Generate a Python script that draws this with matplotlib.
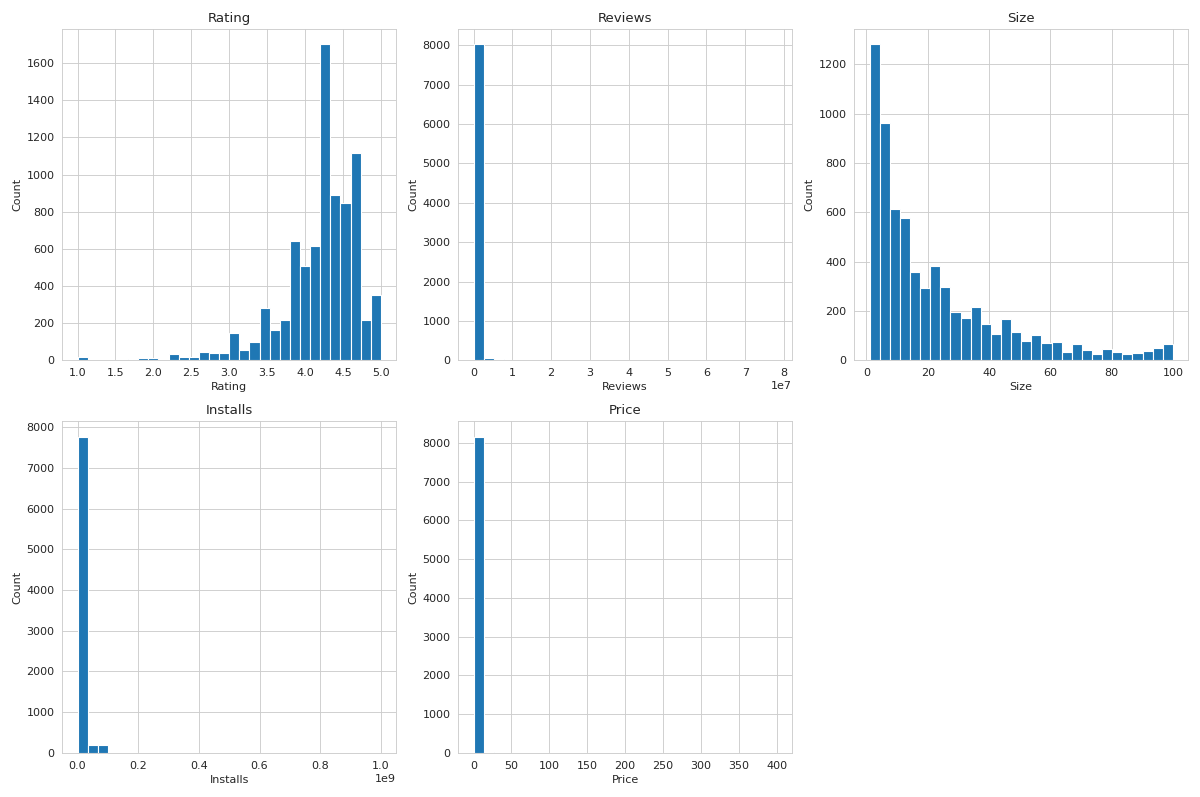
"""Histograms of the numeric columns of the app store table (30 bins each)."""

import numpy as np
import matplotlib

matplotlib.use("Agg")
import matplotlib.pyplot as plt
import seaborn as sns

COLUMNS = ["Rating", "Reviews", "Size", "Installs", "Price"]

# value range (min, max) of every column; 30 equal bins span it
RANGES = {
    "Rating": (1.0, 5.0),
    "Reviews": (0.0, 78158306.0),
    "Size": (1.0, 100.0),
    "Installs": (0.0, 1.0e9),
    "Price": (0.0, 400.0),
}

# counts per bin
rating_counts = [16, 0, 0, 0, 2, 5, 14, 10, 5, 32, 18, 18, 45, 38, 40,
                 145, 58, 97, 280, 162, 218, 640, 510, 615, 1700, 888, 845,
                 1118, 218, 354]
reviews_counts = [8020, 70, 24, 12, 8, 5, 4, 3, 2, 2, 1, 1, 1, 1, 0,
                  0, 0, 0, 0, 0, 0, 0, 0, 0, 1, 1, 0, 0, 0, 1]
size_counts = [1281, 963, 613, 576, 358, 293, 384, 296, 197, 172, 217, 149,
               106, 167, 115, 79, 103, 71, 73, 34, 66, 41, 27, 46, 34, 27,
               30, 37, 49, 64]
installs_counts = [7760, 180, 180, 0, 0, 0, 0, 0, 0, 0, 0, 0, 0, 0, 0,
                   5, 0, 0, 0, 0, 0, 0, 0, 0, 0, 0, 0, 0, 0, 5]
price_counts = [8150, 10, 5, 3, 1, 1, 0, 0, 0, 0, 0, 0, 0, 0, 0,
                0, 0, 0, 0, 0, 0, 0, 0, 0, 0, 0, 0, 0, 0, 3]

COUNTS = {
    "Rating": rating_counts,
    "Reviews": reviews_counts,
    "Size": size_counts,
    "Installs": installs_counts,
    "Price": price_counts,
}


def main() -> None:
    sns.set_style("whitegrid")
    fig, axes = plt.subplots(2, 3, figsize=(15, 9.9625), dpi=80)
    for ax, col in zip(axes.flat, COLUMNS):
        lo, hi = RANGES[col]
        edges = np.linspace(lo, hi, len(COUNTS[col]) + 1)
        centers = (edges[:-1] + edges[1:]) / 2
        ax.hist(centers, bins=edges, weights=COUNTS[col], color="#1f77b4")
        ax.set_title(col, fontsize=12)
        ax.set_xlabel(col, fontsize=10)
        ax.set_ylabel("Count", fontsize=10)
        ax.tick_params(labelsize=10)
    axes[1, 2].remove()
    fig.tight_layout()
    fig.savefig("out.png", dpi=80)


if __name__ == "__main__":
    main()
